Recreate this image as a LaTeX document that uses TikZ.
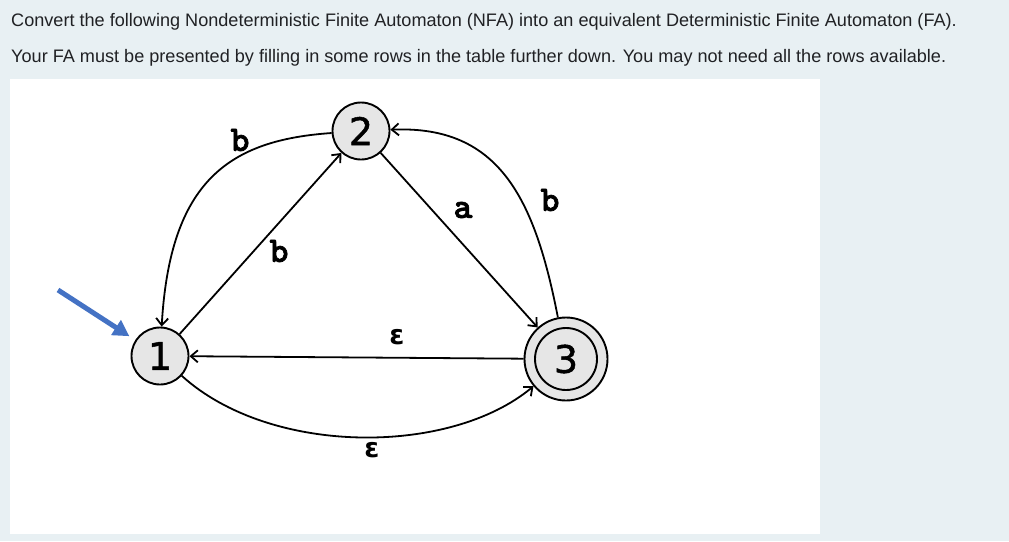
\documentclass[tikz,border=0pt]{standalone}
\usepackage{fontspec}
\setmainfont{Liberation Sans}
\newfontfamily\statefont{DejaVu Sans}
\newfontfamily\edgefont{lmmonolt10-bold.otf}[FakeBold=2]
\usetikzlibrary{arrows.meta}
\definecolor{PageBack}{HTML}{E8F0F3}
\definecolor{StateFill}{HTML}{E6E6E6}
\definecolor{StartBlue}{HTML}{4472C4}
\definecolor{TextDark}{HTML}{202124}

\begin{document}
\begin{tikzpicture}[x=1pt,y=-1pt,
    state/.style={circle,draw,line width=1.9pt,fill=StateFill,
      minimum size=57pt,inner sep=0pt,
      font=\fontsize{38}{40}\statefont\addfontfeature{FakeBold=1.2}},
    trans/.style={->,line width=1.8pt,
      >={Straight Barb[length=7pt,width=12pt]}},
    sym/.style={font=\fontsize{36}{38}\edgefont},
    eps/.style={font=\fontsize{27}{30}\statefont\bfseries},
    intro/.style={anchor=base west,inner sep=0pt,text=TextDark,
      font=\fontsize{18.1}{20}\selectfont}]
    \useasboundingbox (0,0) rectangle (1009,541);
    \fill[PageBack] (0,0) rectangle (1009,541);
    \fill[white] (10,79) rectangle (820,534);
    \node[intro] (line1) at (11,26) {Convert the following Nondeterministic Finite Automaton (NFA) into an equivalent Deterministic Finite Automaton (FA).};
    \node[intro] (line2) at (11,62) {Your FA must be presented by filling in some rows in the table further down. You may not need all the rows available.};
    % states
    \node[state] (q1) at (160,356) {1};
    \node[state] (q2) at (361,131) {2};
    \node[state,minimum size=83pt] (q3) at (566,359) {3};
    \draw[line width=1.9pt] (q3.center) circle (31);
    % start arrow
    \coordinate (start) at (58,290);
    \draw[StartBlue,line width=5pt,-{Triangle[length=16pt,width=17pt]},
      shorten >=7pt] (start) -- (q1);
    % transitions
    \draw[trans] (q2) .. controls (230,140) and (170,180) .. (q1);
    \draw[trans] (q1) -- (q2);
    \draw[trans] (q2) -- (q3);
    \draw[trans] (q3) .. controls (535,200) and (500,125) .. (q2);
    \draw[trans] (q3) -- (q1);
    \draw[trans] (q1) .. controls (270,456) and (450,456) .. (q3);
    % labels
    \node[sym] (lb21) at (240,140) {b};
    \node[sym] (lb12) at (279,251) {b};
    \node[sym] (la23) at (463,210) {a};
    \node[sym] (lb32) at (550,200) {b};
    \node[eps] (le31) at (397,337) {ε};
    \node[eps] (le13) at (372,450) {ε};
\end{tikzpicture}
\end{document}
